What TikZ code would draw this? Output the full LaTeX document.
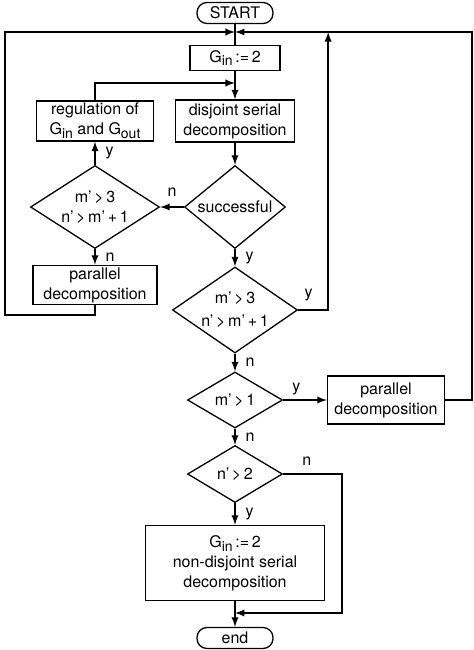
\documentclass[tikz,border=0pt]{standalone}
\usepackage{fontspec}
\setmainfont{TeX Gyre Heros}
\usetikzlibrary{shapes.geometric}

\tikzstyle{block} = [draw, rectangle, align=center, inner sep=1pt]
\tikzstyle{decision} = [draw, diamond, aspect=1.5, align=center, inner sep=0pt]
\tikzstyle{terminal} = [draw, rectangle, rounded corners=5pt, minimum width=38pt, minimum height=10.5pt, inner sep=0pt]
\tikzstyle{arrowtext} = [inner sep=2pt]
\tikzstyle{arrow} = [draw, -latex]
\newcommand{\gsub}[1]{\raisebox{-0.45ex}{\fontsize{7}{7}\selectfont #1}}

\begin{document}
\begin{tikzpicture}[node distance=40pt, line width=0.65pt, font=\fontsize{8}{10}\selectfont]
	\useasboundingbox (-117.5pt,6.5pt) rectangle (119.5pt,-318.5pt);

	\node [terminal] (start) {START};
	\coordinate [below of=start, node distance=9.5pt] (jtop);
	\node [block, below of=start, node distance=22.5pt, minimum width=45pt, minimum height=12.5pt] (gin) {G\gsub{in}\,:=\,2};
	\coordinate [below of=gin, node distance=12.5pt] (jmid);
	\node [block, below of=gin, node distance=31.5pt, minimum width=59.5pt, minimum height=21pt] (disjoint) {disjoint serial\\decomposition};
	\node [block, left of=disjoint, node distance=70pt, minimum width=58.5pt, minimum height=20pt] (regulation) {regulation of\\G\gsub{in} and G\gsub{out}};
	\node [decision, below of=disjoint, node distance=43pt, minimum width=50.5pt, minimum height=41.5pt] (successful) {successful};
	\node [decision, left of=successful, node distance=70pt, minimum width=64.5pt, minimum height=41.5pt] (check1) {m'\,>\,3\\n'\,>\,m'\,+\,1};
	\node [block, below of=check1, node distance=39pt, minimum width=62pt, minimum height=18pt] (parallel1) {parallel\\decomposition};
	\node [decision, below of=successful, node distance=51.5pt, minimum width=62.5pt, minimum height=43pt] (check2) {m'\,>\,3\\[1.5pt]n'\,>\,m'\,+\,1};
	\node [decision, below of=check2, node distance=45pt, minimum width=47.5pt, minimum height=28pt] (check3) {m'\,>\,1};
	\node [block, right of=check3, node distance=75.5pt, minimum width=58.5pt, minimum height=24pt] (parallel2) {parallel\\decomposition};
	\node [decision, below of=check3, node distance=37pt, minimum width=47.5pt, minimum height=28.5pt] (check4) {n'\,>\,2};
	\node [block, below of=check4, node distance=44.5pt, minimum width=89.5pt, minimum height=37.5pt] (nondisjoint) {G\gsub{in}\,:=\,2\\non-disjoint serial\\decomposition};
	\coordinate [below of=nondisjoint, node distance=25pt] (jbot);
	\node [terminal, below of=nondisjoint, node distance=37.5pt] (end) {end};

	% main column
	\draw (start.south) -- (gin.north);
	\draw [arrow] (gin.south) -- (disjoint.north);
	\draw [arrow] (disjoint.south) -- (successful.north);
	\draw [arrow] (successful.south) -- node[arrowtext, right, xshift=3pt] {y} (check2.north);
	\draw [arrow] (check2.south) -- node[arrowtext, right, xshift=3pt] {n} (check3.north);
	\draw [arrow] (check3.south) -- node[arrowtext, right, xshift=3pt] {n} (check4.north);
	\draw [arrow] (check4.south) -- node[arrowtext, right, xshift=3pt] {y} (nondisjoint.north);
	\draw [arrow] (nondisjoint.south) -- (end.north);

	% left loop
	\draw [arrow] (successful.west) -- node[arrowtext, above, yshift=3pt] {n} (check1.east);
	\draw [arrow] (check1.north) -- node[arrowtext, right, xshift=3pt] {y} (regulation.south);
	\draw [arrow] (regulation.north) |- (jmid);
	\draw [arrow] (check1.south) -- node[arrowtext, right, xshift=3pt] {n} (parallel1.north);
	\coordinate [below of=parallel1, node distance=15pt] (lbend);
	\draw [arrow] (parallel1.south) -- (lbend) -- ++(-45pt,0) |- (jtop);

	% right loops
	\draw [arrow] (check2.east) -- node[arrowtext, above, pos=0.35, yshift=2pt] {y} ++(15pt,0) coordinate (c2bend) -- (c2bend |- jtop);
	\draw [arrow] (check3.east) -- node[arrowtext, above, pos=0.3] {y} (parallel2.west);
	\draw [arrow] (parallel2.east) -- ++(13.5pt,0) |- (jtop);
	\draw [arrow] (check4.east) -- node[arrowtext, above, pos=0.4, yshift=2pt] {n} ++(29.5pt,0) |- (jbot);
\end{tikzpicture}
\end{document}
